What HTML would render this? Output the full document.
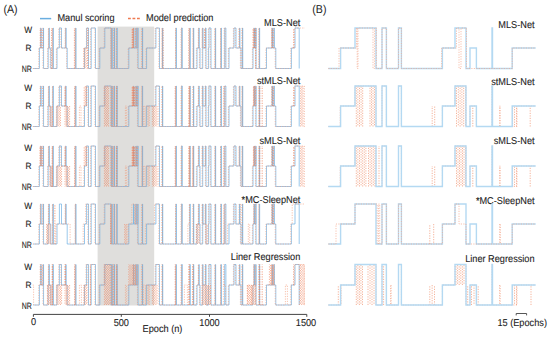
<!DOCTYPE html>
<html><head><meta charset="utf-8"><style>
html,body{margin:0;padding:0;background:#fff;width:550px;height:337px;overflow:hidden}
svg{display:block;text-rendering:geometricPrecision}
.t{font-family:"Liberation Sans",sans-serif;font-size:9.2px;fill:#1c1c1c;stroke:#1c1c1c;stroke-width:0.1px}
.p{font-family:"Liberation Sans",sans-serif;font-size:10.6px;fill:#1c1c1c;stroke:#1c1c1c;stroke-width:0.02px}
.l{font-family:"Liberation Sans",sans-serif;font-size:8.3px;fill:#1c1c1c;stroke:#1c1c1c;stroke-width:0.1px}
.b{fill:none;stroke:#6fb0e2;stroke-width:0.7}
.o{fill:none;stroke:#f19a78;stroke-width:0.6;stroke-dasharray:1.2 1.3}
.os{fill:none;stroke:#ee8058;stroke-width:0.7;stroke-dasharray:1.2 1.3}
.oz{fill:none;stroke:#f08e6a;stroke-width:0.7;stroke-dasharray:1.2 1.3}
.oz2{stroke-dashoffset:1.25}
.ozB{fill:none;stroke:#f29a78;stroke-width:0.75;stroke-dasharray:1.2 1.3}
.bB{fill:none;stroke:#b4d9f2;stroke-width:1.4}
.oB{fill:none;stroke:#f4a88c;stroke-width:0.7;stroke-dasharray:1.2 1.3}
</style></head><body>
<svg width="550" height="337" viewBox="0 0 550 337">
<rect x="97.6" y="26.6" width="56.6" height="278.9" fill="#dfdedc"/>
<line x1="40" y1="18.6" x2="51.2" y2="18.6" stroke="#6aaee0" stroke-width="1.5"/>
<line x1="128" y1="18.6" x2="140" y2="18.6" stroke="#ef7a50" stroke-width="1.5" stroke-dasharray="2.8 1.7"/>
<text transform="translate(57.40 21.30) scale(1 1.080)" class="t">Manul scoring</text>
<text transform="translate(146.00 21.30) scale(1 1.080)" class="t">Model prediction</text>
<text transform="translate(3.50 12.60) scale(1 1.080)" class="p">(A)</text>
<text transform="translate(312.30 12.60) scale(1 1.080)" class="p">(B)</text>
<text transform="translate(32.10 33.05) scale(1 1.080)" class="l" text-anchor="end">W</text>
<text transform="translate(31.60 51.35) scale(1 1.080)" class="l" text-anchor="end">R</text>
<text transform="translate(31.90 72.15) scale(1 1.080)" class="l" text-anchor="end" textLength="10.1" lengthAdjust="spacingAndGlyphs">NR</text>
<text transform="translate(300.30 25.80) scale(1 1.080)" class="t" text-anchor="end">MLS-Net</text>
<text transform="translate(534.60 28.00) scale(1 1.080)" class="t" text-anchor="end">MLS-Net</text>
<path d="M33.30 68.50 H39.40 V48.00 H40.80 V28.00 H41.05 V48.00 H43.30 V28.00 H43.55 V68.50 H48.20 V48.00 H49.00 V28.00 H49.25 V48.00 H50.80 V68.50 H53.00 V28.00 H53.25 V68.50 H57.00 V48.00 H59.40 V28.00 H61.50 V48.00 H65.80 V28.00 H66.05 V48.00 H67.20 V68.50 H75.70 V28.00 H75.95 V68.50 H84.50 V48.00 H86.60 V28.00 H88.50 V68.50 H91.20 V28.00 H95.50 V68.50 H99.80 V48.00 H104.80 V28.00 H111.20 V68.50 H111.90 V28.00 H112.15 V68.50 H114.30 V28.00 H114.55 V68.50 H116.90 V28.00 H117.15 V68.50 H128.80 V48.00 H133.60 V28.00 H133.85 V48.00 H136.00 V28.00 H136.25 V48.00 H137.80 V28.00 H138.05 V68.50 H142.40 V28.00 H142.65 V68.50 H146.60 V48.00 H155.90 V28.00 H159.50 V68.50 H162.50 V28.00 H162.75 V68.50 H176.10 V28.00 H176.35 V68.50 H181.60 V28.00 H182.30 V68.50 H189.90 V28.00 H190.15 V68.50 H193.50 V28.00 H193.75 V68.50 H197.00 V48.00 H198.90 V28.00 H199.15 V48.00 H200.00 V68.50 H202.70 V28.00 H202.95 V48.00 H205.60 V28.00 H206.00 V68.50 H208.60 V48.00 H209.00 V28.00 H211.00 V68.50 H215.40 V28.00 H215.65 V68.50 H221.10 V28.00 H221.35 V68.50 H224.70 V28.00 H225.90 V68.50 H229.00 V48.00 H234.00 V28.00 H236.00 V48.00 H239.60 V28.00 H239.85 V48.00 H241.00 V68.50 H242.50 V28.00 H242.75 V68.50 H253.00 V48.00 H254.20 V28.00 H254.45 V48.00 H255.80 V28.00 H256.05 V68.50 H259.40 V28.00 H259.65 V68.50 H266.50 V48.00 H272.20 V28.00 H272.45 V48.00 H274.00 V28.00 H274.25 V48.00 H275.80 V68.50 H291.40 V48.00 H295.00 V28.00 H299.20 V68.50" class="b"/>
<g transform="translate(-0.60 0)">
<path d="M33.30 68.50 H39.40 V48.00 H40.80 V28.00 H41.05 V48.00 H43.30 V28.00 H43.55 V68.50 H48.20 V48.00 H49.00 V28.00 H49.25 V48.00 H50.80 V68.50 H53.00 V28.00 H53.25 V68.50 H57.00 V48.00 H59.40 V28.00 H61.50 V48.00 H65.80 V28.00 H66.05 V48.00 H67.20 V68.50 H75.70 V28.00 H75.95 V68.50 H84.40 V48.00 H87.00 V28.00 H88.40 V68.50 H91.20 V28.00 H95.50 V68.50 H99.80 V48.00 H104.80 V28.00 H111.20 V68.50 H111.90 V28.00 H112.15 V68.50 H114.30 V28.00 H114.55 V68.50 H116.90 V28.00 H117.15 V68.50 H128.80 V48.00 H133.60 V28.00 H133.85 V48.00 H136.00 V28.00 H136.25 V48.00 H137.80 V28.00 H138.05 V68.50 H142.40 V28.00 H142.65 V68.50 H146.60 V48.00 H155.90 V28.00 H159.50 V68.50 H162.50 V28.00 H162.75 V68.50 H176.10 V28.00 H176.35 V68.50 H181.60 V28.00 H182.30 V68.50 H189.90 V28.00 H190.15 V68.50 H193.50 V28.00 H193.75 V68.50 H197.00 V48.00 H198.90 V28.00 H199.15 V48.00 H200.00 V68.50 H202.70 V28.00 H202.95 V48.00 H205.60 V28.00 H206.00 V68.50 H208.60 V48.00 H209.00 V28.00 H211.00 V68.50 H215.40 V28.00 H215.65 V68.50 H221.10 V28.00 H221.35 V68.50 H224.70 V28.00 H225.90 V68.50 H229.00 V48.00 H234.00 V28.00 H236.00 V48.00 H239.60 V28.00 H239.85 V48.00 H241.00 V68.50 H242.50 V28.00 H242.75 V68.50 H253.00 V48.00 H254.20 V28.00 H254.45 V48.00 H255.80 V28.00 H256.05 V68.50 H259.40 V28.00 H259.65 V68.50 H266.50 V48.00 H272.20 V28.00 H272.45 V48.00 H274.00 V28.00 H274.25 V48.00 H275.80 V68.50 H291.40 V48.00 H295.00 V28.00 H305.50" class="o"/>
<path d="M41.80 48.00 V28.00 M52.20 68.50 V28.00 M75.00 68.50 V28.00 M88.40 68.50 V28.00 M132.90 48.00 V28.00 M133.90 48.00 V28.00 M163.80 68.50 V28.00 M189.40 68.50 V28.00 M205.20 48.00 V28.00 M253.60 48.00 V28.00 M254.80 48.00 V28.00 M256.40 68.50 V28.00 M272.80 48.00 V28.00 M294.20 48.00 V28.00" class="os"/>
<path d="M84.60 48.00 V68.50 M86.90 48.00 V68.50 M132.90 48.00 V28.00" class="oz"/><path d="M85.75 48.00 V68.50 M133.95 48.00 V28.00" class="oz oz2"/>
</g>
<path d="M328.30 68.50 H340.60 V48.00 H355.00 V28.00 H376.00 V68.50 H382.00 V28.00 H386.40 V68.50 H398.50 V28.00 H401.40 V68.50 H442.40 V48.00 H455.00 V28.00 H466.00 V68.50 H470.00 V48.00 H476.40 V68.50 H492.00 V28.00 H492.50 V68.50 H512.20 V48.00 H535.70" class="bB"/>
<path d="M328.30 68.50 H339.00 V48.00 H356.60 V28.00 H357.20 V68.50 H358.00 V28.00 H373.00 V68.50 H374.60 V28.00 H376.40 V68.50 H382.00 V28.00 H386.40 V68.50 H398.50 V28.00 H401.40 V68.50 H441.60 V48.00 H456.50 V28.00 H459.00 V68.50 H461.00 V28.00 H466.50 V68.50 H512.20 V48.00 H535.70" class="oB"/>
<path d="" class="ozB"/><path d="" class="ozB oz2"/>
<text transform="translate(32.10 91.05) scale(1 1.080)" class="l" text-anchor="end">W</text>
<text transform="translate(31.60 109.35) scale(1 1.080)" class="l" text-anchor="end">R</text>
<text transform="translate(31.90 130.15) scale(1 1.080)" class="l" text-anchor="end" textLength="10.1" lengthAdjust="spacingAndGlyphs">NR</text>
<text transform="translate(300.30 84.20) scale(1 1.080)" class="t" text-anchor="end">stMLS-Net</text>
<text transform="translate(534.60 84.60) scale(1 1.080)" class="t" text-anchor="end">stMLS-Net</text>
<path d="M33.30 126.50 H39.40 V106.00 H40.80 V86.00 H41.05 V106.00 H43.30 V86.00 H43.55 V126.50 H48.20 V106.00 H49.00 V86.00 H49.25 V106.00 H50.80 V126.50 H53.00 V86.00 H53.25 V126.50 H57.00 V106.00 H59.40 V86.00 H61.50 V106.00 H65.80 V86.00 H66.05 V106.00 H67.20 V126.50 H75.70 V86.00 H75.95 V126.50 H84.50 V106.00 H86.60 V86.00 H88.50 V126.50 H91.20 V86.00 H95.50 V126.50 H99.80 V106.00 H104.80 V86.00 H111.20 V126.50 H111.90 V86.00 H112.15 V126.50 H114.30 V86.00 H114.55 V126.50 H116.90 V86.00 H117.15 V126.50 H128.80 V106.00 H133.60 V86.00 H133.85 V106.00 H136.00 V86.00 H136.25 V106.00 H137.80 V86.00 H138.05 V126.50 H142.40 V86.00 H142.65 V126.50 H146.60 V106.00 H155.90 V86.00 H159.50 V126.50 H162.50 V86.00 H162.75 V126.50 H176.10 V86.00 H176.35 V126.50 H181.60 V86.00 H182.30 V126.50 H189.90 V86.00 H190.15 V126.50 H193.50 V86.00 H193.75 V126.50 H197.00 V106.00 H198.90 V86.00 H199.15 V106.00 H200.00 V126.50 H202.70 V86.00 H202.95 V106.00 H205.60 V86.00 H206.00 V126.50 H208.60 V106.00 H209.00 V86.00 H211.00 V126.50 H215.40 V86.00 H215.65 V126.50 H221.10 V86.00 H221.35 V126.50 H224.70 V86.00 H225.90 V126.50 H229.00 V106.00 H234.00 V86.00 H236.00 V106.00 H239.60 V86.00 H239.85 V106.00 H241.00 V126.50 H242.50 V86.00 H242.75 V126.50 H253.00 V106.00 H254.20 V86.00 H254.45 V106.00 H255.80 V86.00 H256.05 V126.50 H259.40 V86.00 H259.65 V126.50 H266.50 V106.00 H272.20 V86.00 H272.45 V106.00 H274.00 V86.00 H274.25 V106.00 H275.80 V126.50 H291.40 V106.00 H295.00 V86.00 H299.20 V126.50" class="b"/>
<g transform="translate(-0.60 0)">
<path d="M33.30 126.50 H39.40 V106.00 H40.80 V86.00 H41.05 V106.00 H43.30 V86.00 H43.55 V126.50 H48.20 V106.00 H49.00 V86.00 H49.25 V106.00 H50.80 V126.50 H53.00 V86.00 H53.25 V126.50 H57.00 V106.00 H59.40 V86.00 H61.50 V106.00 H65.80 V86.00 H66.05 V106.00 H67.20 V126.50 H75.70 V86.00 H75.95 V126.50 H80.00 V106.00 H81.60 V126.50 H84.50 V106.00 H86.60 V86.00 H88.50 V126.50 H91.20 V86.00 H95.50 V126.50 H99.80 V106.00 H104.80 V86.00 H111.20 V126.50 H111.90 V86.00 H112.15 V126.50 H114.30 V86.00 H114.55 V126.50 H116.90 V86.00 H117.15 V126.50 H126.00 V106.00 H127.00 V126.50 H128.80 V106.00 H133.60 V86.00 H133.85 V106.00 H136.00 V86.00 H136.25 V106.00 H137.80 V86.00 H138.05 V126.50 H142.40 V86.00 H142.65 V126.50 H144.00 V106.00 H145.50 V126.50 H146.60 V106.00 H155.90 V86.00 H159.50 V126.50 H162.50 V86.00 H162.75 V126.50 H176.10 V86.00 H176.35 V126.50 H181.60 V86.00 H182.30 V126.50 H189.90 V86.00 H190.15 V126.50 H193.50 V86.00 H193.75 V126.50 H197.00 V106.00 H198.90 V86.00 H199.15 V106.00 H200.00 V126.50 H202.70 V86.00 H202.95 V106.00 H205.60 V86.00 H206.00 V126.50 H208.60 V106.00 H209.00 V86.00 H211.00 V126.50 H215.40 V86.00 H215.65 V126.50 H221.10 V86.00 H221.35 V126.50 H224.70 V86.00 H225.90 V126.50 H229.00 V106.00 H234.00 V86.00 H236.00 V106.00 H239.60 V86.00 H239.85 V106.00 H241.00 V126.50 H242.50 V86.00 H242.75 V126.50 H253.00 V106.00 H254.20 V86.00 H254.45 V106.00 H255.80 V86.00 H256.05 V126.50 H259.40 V86.00 H259.65 V126.50 H266.50 V106.00 H272.20 V86.00 H272.45 V106.00 H274.00 V86.00 H274.25 V106.00 H275.80 V126.50 H291.40 V106.00 H295.00 V86.00 H305.00 V126.50 H305.50" class="o"/>
<path d="M65.60 106.00 V86.00 M75.20 126.50 V86.00 M113.60 126.50 V86.00 M117.40 126.50 V86.00 M133.00 106.00 V86.00 M134.00 106.00 V86.00 M135.00 106.00 V86.00 M137.40 106.00 V86.00 M175.80 126.50 V86.00 M189.40 126.50 V86.00 M190.40 126.50 V86.00 M224.40 126.50 V86.00 M260.40 126.50 V86.00 M262.80 126.50 V86.00 M273.40 106.00 V86.00 M294.20 106.00 V86.00" class="os"/>
<path d="M50.50 106.00 V126.50 M52.80 106.00 V126.50 M57.60 106.00 V126.50 M59.90 106.00 V126.50 M65.60 106.00 V126.50 M67.90 106.00 V126.50 M70.20 106.00 V126.50 M84.80 106.00 V86.00 M87.10 106.00 V86.00 M105.00 126.50 V86.00 M107.10 126.50 V86.00 M109.20 126.50 V86.00 M132.80 106.00 V86.00 M134.90 106.00 V86.00 M148.60 106.00 V126.50 M153.00 106.00 V126.50 M155.30 106.00 V126.50 M157.60 106.00 V126.50 M254.00 106.00 V86.00 M256.30 106.00 V86.00 M301.30 126.50 V86.00 M303.60 126.50 V86.00" class="oz"/><path d="M51.65 106.00 V126.50 M58.75 106.00 V126.50 M61.05 106.00 V126.50 M66.75 106.00 V126.50 M69.05 106.00 V126.50 M85.95 106.00 V86.00 M106.05 126.50 V86.00 M108.15 126.50 V86.00 M133.85 106.00 V86.00 M149.75 106.00 V126.50 M154.15 106.00 V126.50 M156.45 106.00 V126.50 M255.15 106.00 V86.00 M302.45 126.50 V86.00" class="oz oz2"/>
</g>
<path d="M328.30 126.50 H340.20 V106.00 H355.00 V86.00 H376.00 V126.50 H382.00 V86.00 H386.40 V126.50 H398.50 V86.00 H401.40 V126.50 H442.40 V106.00 H455.00 V86.00 H466.00 V126.50 H470.00 V106.00 H476.40 V126.50 H492.00 V86.00 H492.50 V126.50 H499.50 V106.00 H500.30 V126.50 H517.00 V106.00 H535.70" class="oB"/>
<path d="M356.30 126.50 V86.00 M359.50 126.50 V86.00 M362.70 126.50 V86.00 M370.00 126.50 V86.00 M373.00 126.50 V86.00 M432.20 126.50 V106.00 M456.50 126.50 V86.00 M460.10 126.50 V86.00 M463.70 126.50 V86.00 M472.80 126.50 V106.00 M512.60 126.50 V106.00 M516.50 126.50 V106.00 M530.20 126.50 V106.00" class="ozB"/><path d="M357.90 126.50 V86.00 M361.10 126.50 V86.00 M371.50 126.50 V86.00 M374.50 126.50 V86.00 M434.70 126.50 V106.00 M458.30 126.50 V86.00 M461.90 126.50 V86.00 M465.50 126.50 V86.00 M514.55 126.50 V106.00" class="ozB oz2"/>
<path d="M328.30 126.50 H340.60 V106.00 H355.00 V86.00 H376.00 V126.50 H382.00 V86.00 H386.40 V126.50 H398.50 V86.00 H401.40 V126.50 H442.40 V106.00 H455.00 V86.00 H466.00 V126.50 H470.00 V106.00 H476.40 V126.50 H492.00 V86.00 H492.50 V126.50 H512.20 V106.00 H535.70" class="bB"/>
<text transform="translate(32.10 151.05) scale(1 1.080)" class="l" text-anchor="end">W</text>
<text transform="translate(31.60 169.35) scale(1 1.080)" class="l" text-anchor="end">R</text>
<text transform="translate(31.90 190.15) scale(1 1.080)" class="l" text-anchor="end" textLength="10.1" lengthAdjust="spacingAndGlyphs">NR</text>
<text transform="translate(300.30 143.60) scale(1 1.080)" class="t" text-anchor="end">sMLS-Net</text>
<text transform="translate(534.60 144.00) scale(1 1.080)" class="t" text-anchor="end">sMLS-Net</text>
<path d="M33.30 186.50 H39.40 V166.00 H40.80 V146.00 H41.05 V166.00 H43.30 V146.00 H43.55 V186.50 H48.20 V166.00 H49.00 V146.00 H49.25 V166.00 H50.80 V186.50 H53.00 V146.00 H53.25 V186.50 H57.00 V166.00 H59.40 V146.00 H61.50 V166.00 H65.80 V146.00 H66.05 V166.00 H67.20 V186.50 H75.70 V146.00 H75.95 V186.50 H84.50 V166.00 H86.60 V146.00 H88.50 V186.50 H91.20 V146.00 H95.50 V186.50 H99.80 V166.00 H104.80 V146.00 H111.20 V186.50 H111.90 V146.00 H112.15 V186.50 H114.30 V146.00 H114.55 V186.50 H116.90 V146.00 H117.15 V186.50 H128.80 V166.00 H133.60 V146.00 H133.85 V166.00 H136.00 V146.00 H136.25 V166.00 H137.80 V146.00 H138.05 V186.50 H142.40 V146.00 H142.65 V186.50 H146.60 V166.00 H155.90 V146.00 H159.50 V186.50 H162.50 V146.00 H162.75 V186.50 H176.10 V146.00 H176.35 V186.50 H181.60 V146.00 H182.30 V186.50 H189.90 V146.00 H190.15 V186.50 H193.50 V146.00 H193.75 V186.50 H197.00 V166.00 H198.90 V146.00 H199.15 V166.00 H200.00 V186.50 H202.70 V146.00 H202.95 V166.00 H205.60 V146.00 H206.00 V186.50 H208.60 V166.00 H209.00 V146.00 H211.00 V186.50 H215.40 V146.00 H215.65 V186.50 H221.10 V146.00 H221.35 V186.50 H224.70 V146.00 H225.90 V186.50 H229.00 V166.00 H234.00 V146.00 H236.00 V166.00 H239.60 V146.00 H239.85 V166.00 H241.00 V186.50 H242.50 V146.00 H242.75 V186.50 H253.00 V166.00 H254.20 V146.00 H254.45 V166.00 H255.80 V146.00 H256.05 V186.50 H259.40 V146.00 H259.65 V186.50 H266.50 V166.00 H272.20 V146.00 H272.45 V166.00 H274.00 V146.00 H274.25 V166.00 H275.80 V186.50 H291.40 V166.00 H295.00 V146.00 H299.20 V186.50" class="b"/>
<g transform="translate(-0.60 0)">
<path d="M33.30 186.50 H39.40 V166.00 H40.80 V146.00 H41.05 V166.00 H43.30 V146.00 H43.55 V186.50 H48.20 V166.00 H49.00 V146.00 H49.25 V166.00 H50.80 V186.50 H53.00 V146.00 H53.25 V186.50 H57.00 V166.00 H59.40 V146.00 H61.50 V166.00 H65.80 V146.00 H66.05 V166.00 H67.20 V186.50 H75.70 V146.00 H75.95 V186.50 H80.00 V166.00 H81.60 V186.50 H84.50 V166.00 H86.60 V146.00 H88.50 V186.50 H91.20 V146.00 H95.50 V186.50 H99.80 V166.00 H104.80 V146.00 H111.20 V186.50 H111.90 V146.00 H112.15 V186.50 H114.30 V146.00 H114.55 V186.50 H116.90 V146.00 H117.15 V186.50 H126.00 V166.00 H127.00 V186.50 H128.80 V166.00 H133.60 V146.00 H133.85 V166.00 H136.00 V146.00 H136.25 V166.00 H137.80 V146.00 H138.05 V186.50 H142.40 V146.00 H142.65 V186.50 H144.00 V166.00 H145.50 V186.50 H146.60 V166.00 H155.90 V146.00 H159.50 V186.50 H162.50 V146.00 H162.75 V186.50 H176.10 V146.00 H176.35 V186.50 H181.60 V146.00 H182.30 V186.50 H189.90 V146.00 H190.15 V186.50 H193.50 V146.00 H193.75 V186.50 H197.00 V166.00 H198.90 V146.00 H199.15 V166.00 H200.00 V186.50 H202.70 V146.00 H202.95 V166.00 H205.60 V146.00 H206.00 V186.50 H208.60 V166.00 H209.00 V146.00 H211.00 V186.50 H215.40 V146.00 H215.65 V186.50 H221.10 V146.00 H221.35 V186.50 H224.70 V146.00 H225.90 V186.50 H229.00 V166.00 H234.00 V146.00 H236.00 V166.00 H239.60 V146.00 H239.85 V166.00 H241.00 V186.50 H242.50 V146.00 H242.75 V186.50 H253.00 V166.00 H254.20 V146.00 H254.45 V166.00 H255.80 V146.00 H256.05 V186.50 H259.40 V146.00 H259.65 V186.50 H266.50 V166.00 H272.20 V146.00 H272.45 V166.00 H274.00 V146.00 H274.25 V166.00 H275.80 V186.50 H291.40 V166.00 H295.00 V146.00 H305.00 V186.50 H305.50" class="o"/>
<path d="M42.40 166.00 V146.00 M52.80 186.50 V146.00 M65.60 166.00 V146.00 M75.20 186.50 V146.00 M113.60 186.50 V146.00 M117.40 186.50 V146.00 M133.00 166.00 V146.00 M134.00 166.00 V146.00 M135.00 166.00 V146.00 M137.40 166.00 V146.00 M175.80 186.50 V146.00 M189.40 186.50 V146.00 M190.40 186.50 V146.00 M193.40 186.50 V146.00 M224.40 186.50 V146.00 M260.40 186.50 V146.00 M262.80 186.50 V146.00 M273.40 166.00 V146.00 M294.20 166.00 V146.00" class="os"/>
<path d="M40.70 166.00 V146.00 M50.50 166.00 V186.50 M52.80 166.00 V186.50 M57.60 166.00 V186.50 M59.90 166.00 V186.50 M62.20 166.00 V186.50 M65.60 166.00 V186.50 M67.90 166.00 V186.50 M70.20 166.00 V186.50 M84.80 166.00 V146.00 M87.10 166.00 V146.00 M105.00 186.50 V146.00 M107.10 186.50 V146.00 M109.20 186.50 V146.00 M132.80 166.00 V146.00 M134.90 166.00 V146.00 M148.60 166.00 V186.50 M153.00 166.00 V186.50 M155.30 166.00 V186.50 M157.60 166.00 V186.50 M254.00 166.00 V146.00 M256.30 166.00 V146.00 M301.30 186.50 V146.00 M303.60 186.50 V146.00" class="oz"/><path d="M41.75 166.00 V146.00 M51.65 166.00 V186.50 M58.75 166.00 V186.50 M61.05 166.00 V186.50 M66.75 166.00 V186.50 M69.05 166.00 V186.50 M85.95 166.00 V146.00 M106.05 186.50 V146.00 M108.15 186.50 V146.00 M133.85 166.00 V146.00 M149.75 166.00 V186.50 M154.15 166.00 V186.50 M156.45 166.00 V186.50 M255.15 166.00 V146.00 M302.45 186.50 V146.00" class="oz oz2"/>
</g>
<path d="M328.30 186.50 H340.20 V166.00 H355.00 V146.00 H376.00 V186.50 H382.00 V146.00 H386.40 V186.50 H398.50 V146.00 H401.40 V186.50 H442.40 V166.00 H455.00 V146.00 H466.00 V186.50 H470.00 V166.00 H476.40 V186.50 H492.00 V146.00 H492.50 V186.50 H499.50 V166.00 H500.30 V186.50 H517.00 V166.00 H535.70" class="oB"/>
<path d="M356.30 186.50 V146.00 M359.50 186.50 V146.00 M362.70 186.50 V146.00 M365.90 186.50 V146.00 M368.50 186.50 V146.00 M371.70 186.50 V146.00 M374.90 186.50 V146.00 M379.00 186.50 V146.00 M432.20 186.50 V166.00 M456.50 186.50 V146.00 M459.50 186.50 V146.00 M462.50 186.50 V146.00 M465.50 186.50 V146.00 M472.80 186.50 V166.00 M512.60 186.50 V166.00 M516.50 186.50 V166.00 M530.20 186.50 V166.00" class="ozB"/><path d="M357.90 186.50 V146.00 M361.10 186.50 V146.00 M364.30 186.50 V146.00 M370.10 186.50 V146.00 M373.30 186.50 V146.00 M434.70 186.50 V166.00 M458.00 186.50 V146.00 M461.00 186.50 V146.00 M464.00 186.50 V146.00 M514.55 186.50 V166.00" class="ozB oz2"/>
<path d="M328.30 186.50 H340.60 V166.00 H355.00 V146.00 H376.00 V186.50 H382.00 V146.00 H386.40 V186.50 H398.50 V146.00 H401.40 V186.50 H442.40 V166.00 H455.00 V146.00 H466.00 V186.50 H470.00 V166.00 H476.40 V186.50 H492.00 V146.00 H492.50 V186.50 H512.20 V166.00 H535.70" class="bB"/>
<text transform="translate(32.10 209.05) scale(1 1.080)" class="l" text-anchor="end">W</text>
<text transform="translate(31.60 227.35) scale(1 1.080)" class="l" text-anchor="end">R</text>
<text transform="translate(31.90 247.65) scale(1 1.080)" class="l" text-anchor="end" textLength="10.1" lengthAdjust="spacingAndGlyphs">NR</text>
<text transform="translate(300.30 202.50) scale(1 1.080)" class="t" text-anchor="end">*MC-SleepNet</text>
<text transform="translate(534.60 204.00) scale(1 1.080)" class="t" text-anchor="end">*MC-SleepNet</text>
<path d="M33.30 244.00 H39.40 V224.00 H40.80 V204.00 H41.05 V224.00 H43.30 V204.00 H43.55 V244.00 H48.20 V224.00 H49.00 V204.00 H49.25 V224.00 H50.80 V244.00 H53.00 V204.00 H53.25 V244.00 H57.00 V224.00 H59.40 V204.00 H61.50 V224.00 H65.80 V204.00 H66.05 V224.00 H67.20 V244.00 H75.70 V204.00 H75.95 V244.00 H84.50 V224.00 H86.60 V204.00 H88.50 V244.00 H91.20 V204.00 H95.50 V244.00 H99.80 V224.00 H104.80 V204.00 H111.20 V244.00 H111.90 V204.00 H112.15 V244.00 H114.30 V204.00 H114.55 V244.00 H116.90 V204.00 H117.15 V244.00 H128.80 V224.00 H133.60 V204.00 H133.85 V224.00 H136.00 V204.00 H136.25 V224.00 H137.80 V204.00 H138.05 V244.00 H142.40 V204.00 H142.65 V244.00 H146.60 V224.00 H155.90 V204.00 H159.50 V244.00 H162.50 V204.00 H162.75 V244.00 H176.10 V204.00 H176.35 V244.00 H181.60 V204.00 H182.30 V244.00 H189.90 V204.00 H190.15 V244.00 H193.50 V204.00 H193.75 V244.00 H197.00 V224.00 H198.90 V204.00 H199.15 V224.00 H200.00 V244.00 H202.70 V204.00 H202.95 V224.00 H205.60 V204.00 H206.00 V244.00 H208.60 V224.00 H209.00 V204.00 H211.00 V244.00 H215.40 V204.00 H215.65 V244.00 H221.10 V204.00 H221.35 V244.00 H224.70 V204.00 H225.90 V244.00 H229.00 V224.00 H234.00 V204.00 H236.00 V224.00 H239.60 V204.00 H239.85 V224.00 H241.00 V244.00 H242.50 V204.00 H242.75 V244.00 H253.00 V224.00 H254.20 V204.00 H254.45 V224.00 H255.80 V204.00 H256.05 V244.00 H259.40 V204.00 H259.65 V244.00 H266.50 V224.00 H272.20 V204.00 H272.45 V224.00 H274.00 V204.00 H274.25 V224.00 H275.80 V244.00 H291.40 V224.00 H295.00 V204.00 H299.20 V244.00" class="b"/>
<g transform="translate(-0.60 0)">
<path d="M33.30 244.00 H39.40 V224.00 H40.80 V204.00 H41.05 V224.00 H43.30 V204.00 H43.55 V244.00 H48.20 V224.00 H49.00 V204.00 H49.25 V224.00 H50.80 V244.00 H53.00 V204.00 H53.25 V244.00 H56.50 V224.00 H65.80 V204.00 H66.05 V224.00 H70.70 V244.00 H75.70 V204.00 H75.95 V244.00 H83.80 V224.00 H86.30 V204.00 H88.50 V244.00 H91.20 V204.00 H95.50 V244.00 H99.80 V224.00 H104.80 V204.00 H111.20 V244.00 H111.90 V204.00 H112.15 V244.00 H114.30 V204.00 H114.55 V244.00 H116.90 V204.00 H117.15 V244.00 H128.80 V224.00 H132.40 V204.00 H135.20 V224.00 H136.00 V204.00 H136.25 V224.00 H137.80 V204.00 H138.05 V244.00 H142.40 V204.00 H142.65 V244.00 H146.00 V224.00 H155.20 V204.00 H159.50 V244.00 H162.50 V204.00 H162.75 V244.00 H176.10 V204.00 H176.35 V244.00 H181.60 V204.00 H182.30 V244.00 H188.50 V224.00 H189.90 V204.00 H190.15 V244.00 H193.50 V204.00 H193.75 V244.00 H197.00 V224.00 H198.90 V204.00 H199.15 V224.00 H200.00 V244.00 H202.70 V204.00 H202.95 V224.00 H205.60 V204.00 H206.00 V244.00 H208.60 V224.00 H209.00 V204.00 H211.00 V244.00 H215.40 V204.00 H215.65 V244.00 H221.10 V204.00 H221.35 V244.00 H224.70 V204.00 H225.90 V244.00 H228.20 V224.00 H234.00 V204.00 H236.00 V224.00 H239.60 V204.00 H241.00 V244.00 H242.50 V204.00 H242.75 V244.00 H248.90 V224.00 H250.30 V244.00 H253.00 V224.00 H254.20 V204.00 H254.45 V224.00 H255.80 V204.00 H256.05 V244.00 H259.40 V204.00 H259.65 V244.00 H266.50 V224.00 H272.20 V204.00 H272.45 V224.00 H274.00 V204.00 H274.25 V224.00 H275.80 V244.00 H291.40 V224.00 H292.80 V204.00 H305.50" class="o"/>
<path d="M55.50 244.00 V204.00 M111.20 244.00 V204.00 M224.50 244.00 V204.00 M273.40 224.00 V204.00" class="os"/>
<path d="M47.20 224.00 V244.00 M49.50 224.00 V244.00 M125.30 224.00 V244.00 M127.40 224.00 V244.00 M197.00 224.00 V244.00 M199.30 224.00 V244.00 M206.50 224.00 V244.00" class="oz"/><path d="M48.35 224.00 V244.00 M50.65 224.00 V244.00 M126.35 224.00 V244.00 M198.15 224.00 V244.00 M207.65 224.00 V244.00" class="oz oz2"/>
</g>
<path d="M328.30 244.00 H340.60 V224.00 H355.00 V204.00 H376.00 V244.00 H382.00 V204.00 H386.40 V244.00 H398.50 V204.00 H401.40 V244.00 H442.40 V224.00 H455.00 V204.00 H466.00 V244.00 H470.00 V224.00 H476.40 V244.00 H492.00 V204.00 H492.50 V244.00 H512.20 V224.00 H535.70" class="bB"/>
<path d="M328.30 244.00 H336.00 V224.00 H355.00 V204.00 H377.20 V244.00 H378.50 V204.00 H379.70 V244.00 H382.00 V204.00 H386.40 V244.00 H398.50 V204.00 H401.40 V244.00 H442.40 V224.00 H455.00 V204.00 H459.00 V224.00 H466.00 V244.00 H499.50 V224.00 H500.50 V244.00 H512.20 V224.00 H535.70" class="oB"/>
<path d="M429.80 244.00 V224.00" class="ozB"/><path d="M433.70 244.00 V224.00" class="ozB oz2"/>
<text transform="translate(32.10 269.55) scale(1 1.080)" class="l" text-anchor="end">W</text>
<text transform="translate(31.60 288.35) scale(1 1.080)" class="l" text-anchor="end">R</text>
<text transform="translate(31.90 308.65) scale(1 1.080)" class="l" text-anchor="end" textLength="10.1" lengthAdjust="spacingAndGlyphs">NR</text>
<text transform="translate(300.30 259.90) scale(1 1.080)" class="t" text-anchor="end">Liner Regression</text>
<text transform="translate(534.60 261.60) scale(1 1.080)" class="t" text-anchor="end">Liner Regression</text>
<path d="M33.30 305.00 H39.40 V285.00 H40.80 V264.50 H41.05 V285.00 H43.30 V264.50 H43.55 V305.00 H48.20 V285.00 H49.00 V264.50 H49.25 V285.00 H50.80 V305.00 H53.00 V264.50 H53.25 V305.00 H57.00 V285.00 H59.40 V264.50 H61.50 V285.00 H65.80 V264.50 H66.05 V285.00 H67.20 V305.00 H75.70 V264.50 H75.95 V305.00 H84.50 V285.00 H86.60 V264.50 H88.50 V305.00 H91.20 V264.50 H95.50 V305.00 H99.80 V285.00 H104.80 V264.50 H111.20 V305.00 H111.90 V264.50 H112.15 V305.00 H114.30 V264.50 H114.55 V305.00 H116.90 V264.50 H117.15 V305.00 H128.80 V285.00 H133.60 V264.50 H133.85 V285.00 H136.00 V264.50 H136.25 V285.00 H137.80 V264.50 H138.05 V305.00 H142.40 V264.50 H142.65 V305.00 H146.60 V285.00 H155.90 V264.50 H159.50 V305.00 H162.50 V264.50 H162.75 V305.00 H176.10 V264.50 H176.35 V305.00 H181.60 V264.50 H182.30 V305.00 H189.90 V264.50 H190.15 V305.00 H193.50 V264.50 H193.75 V305.00 H197.00 V285.00 H198.90 V264.50 H199.15 V285.00 H200.00 V305.00 H202.70 V264.50 H202.95 V285.00 H205.60 V264.50 H206.00 V305.00 H208.60 V285.00 H209.00 V264.50 H211.00 V305.00 H215.40 V264.50 H215.65 V305.00 H221.10 V264.50 H221.35 V305.00 H224.70 V264.50 H225.90 V305.00 H229.00 V285.00 H234.00 V264.50 H236.00 V285.00 H239.60 V264.50 H239.85 V285.00 H241.00 V305.00 H242.50 V264.50 H242.75 V305.00 H253.00 V285.00 H254.20 V264.50 H254.45 V285.00 H255.80 V264.50 H256.05 V305.00 H259.40 V264.50 H259.65 V305.00 H266.50 V285.00 H272.20 V264.50 H272.45 V285.00 H274.00 V264.50 H274.25 V285.00 H275.80 V305.00 H291.40 V285.00 H295.00 V264.50 H299.20 V305.00" class="b"/>
<g transform="translate(-0.60 0)">
<path d="M33.30 285.00 H34.20 V305.00 H39.40 V285.00 H40.80 V264.50 H41.05 V285.00 H43.30 V264.50 H43.55 V305.00 H48.20 V285.00 H49.00 V264.50 H49.25 V285.00 H50.80 V305.00 H53.00 V264.50 H53.25 V305.00 H57.00 V285.00 H59.40 V264.50 H61.50 V285.00 H65.80 V264.50 H66.05 V285.00 H67.20 V305.00 H75.70 V264.50 H75.95 V305.00 H80.00 V285.00 H82.00 V305.00 H84.50 V285.00 H86.60 V264.50 H88.50 V305.00 H91.20 V264.50 H95.50 V305.00 H99.80 V285.00 H104.80 V264.50 H111.20 V305.00 H111.90 V264.50 H112.15 V305.00 H114.30 V264.50 H114.55 V305.00 H116.90 V264.50 H117.15 V305.00 H126.00 V285.00 H127.00 V305.00 H128.80 V285.00 H133.60 V264.50 H133.85 V285.00 H136.00 V264.50 H136.25 V285.00 H137.80 V264.50 H138.05 V305.00 H142.40 V264.50 H142.65 V305.00 H144.00 V285.00 H146.00 V305.00 H146.60 V285.00 H155.90 V264.50 H159.50 V305.00 H162.50 V264.50 H162.75 V305.00 H176.10 V264.50 H176.35 V305.00 H181.60 V264.50 H182.30 V305.00 H185.00 V285.00 H188.00 V305.00 H189.90 V264.50 H190.15 V305.00 H193.50 V264.50 H193.75 V305.00 H197.00 V285.00 H198.90 V264.50 H199.15 V285.00 H200.00 V305.00 H202.70 V264.50 H202.95 V285.00 H205.60 V264.50 H206.00 V305.00 H208.60 V285.00 H209.00 V264.50 H211.00 V305.00 H215.40 V264.50 H215.65 V305.00 H221.10 V264.50 H221.35 V305.00 H224.00 V285.00 H226.00 V305.00 H229.00 V285.00 H234.00 V264.50 H236.00 V285.00 H239.60 V264.50 H239.85 V285.00 H241.00 V305.00 H242.50 V264.50 H242.75 V305.00 H248.00 V285.00 H252.00 V305.00 H253.00 V285.00 H254.20 V264.50 H254.45 V285.00 H255.80 V264.50 H256.05 V305.00 H259.40 V264.50 H259.65 V305.00 H266.50 V285.00 H272.20 V264.50 H272.45 V285.00 H274.00 V264.50 H274.25 V285.00 H275.80 V305.00 H286.00 V285.00 H288.00 V305.00 H291.40 V285.00 H295.00 V264.50 H305.00 V305.00 H305.50" class="o"/>
<path d="M42.40 285.00 V264.50 M52.80 305.00 V264.50 M65.60 285.00 V264.50 M75.20 305.00 V264.50 M91.00 305.00 V264.50 M113.60 305.00 V264.50 M117.40 305.00 V264.50 M175.80 305.00 V264.50 M189.40 305.00 V264.50 M193.40 305.00 V264.50 M224.40 285.00 V264.50 M260.40 305.00 V264.50 M262.80 305.00 V264.50 M294.20 285.00 V264.50" class="os"/>
<path d="M48.00 285.00 V305.00 M50.30 285.00 V305.00 M52.60 285.00 V305.00 M57.60 285.00 V305.00 M59.90 285.00 V305.00 M62.20 285.00 V305.00 M65.60 285.00 V305.00 M67.90 285.00 V305.00 M70.20 285.00 V305.00 M84.80 285.00 V305.00 M87.10 285.00 V305.00 M105.00 305.00 V264.50 M107.10 305.00 V264.50 M109.20 305.00 V264.50 M129.40 285.00 V264.50 M131.70 285.00 V264.50 M134.00 285.00 V264.50 M136.30 285.00 V264.50 M148.60 285.00 V305.00 M153.00 285.00 V305.00 M155.30 285.00 V305.00 M157.60 285.00 V305.00 M202.80 285.00 V305.00 M204.90 285.00 V305.00 M207.00 285.00 V305.00 M209.10 285.00 V305.00 M211.20 285.00 V305.00 M248.00 285.00 V305.00 M250.10 285.00 V305.00 M252.20 285.00 V305.00 M254.30 285.00 V305.00 M256.40 285.00 V305.00 M270.00 285.00 V264.50 M272.30 285.00 V264.50 M274.60 285.00 V264.50 M300.00 305.00 V264.50 M302.30 305.00 V264.50 M304.60 305.00 V264.50" class="oz"/><path d="M49.15 285.00 V305.00 M51.45 285.00 V305.00 M58.75 285.00 V305.00 M61.05 285.00 V305.00 M66.75 285.00 V305.00 M69.05 285.00 V305.00 M85.95 285.00 V305.00 M106.05 305.00 V264.50 M108.15 305.00 V264.50 M110.25 305.00 V264.50 M130.55 285.00 V264.50 M132.85 285.00 V264.50 M135.15 285.00 V264.50 M149.75 285.00 V305.00 M154.15 285.00 V305.00 M156.45 285.00 V305.00 M203.85 285.00 V305.00 M205.95 285.00 V305.00 M208.05 285.00 V305.00 M210.15 285.00 V305.00 M249.05 285.00 V305.00 M251.15 285.00 V305.00 M253.25 285.00 V305.00 M255.35 285.00 V305.00 M271.15 285.00 V264.50 M273.45 285.00 V264.50 M301.15 305.00 V264.50 M303.45 305.00 V264.50" class="oz oz2"/>
</g>
<path d="M328.30 305.00 H340.60 V285.00 H355.00 V264.50 H376.00 V305.00 H382.00 V264.50 H386.40 V305.00 H390.50 V285.00 H391.20 V305.00 H398.50 V264.50 H401.40 V305.00 H442.40 V285.00 H455.00 V264.50 H466.00 V305.00 H470.00 V285.00 H476.40 V305.00 H492.00 V264.50 H492.50 V305.00 H499.50 V285.00 H500.30 V305.00 H517.00 V285.00 H535.70" class="oB"/>
<path d="M338.30 305.00 V285.00 M356.30 305.00 V264.50 M359.40 305.00 V264.50 M362.50 305.00 V264.50 M368.00 305.00 V264.50 M372.00 305.00 V264.50 M383.60 305.00 V264.50 M429.80 305.00 V285.00 M434.50 305.00 V285.00 M456.00 285.00 V264.50 M459.20 285.00 V264.50 M462.40 285.00 V264.50 M467.70 305.00 V285.00 M471.50 305.00 V285.00 M478.20 305.00 V285.00 M512.60 305.00 V285.00 M516.50 305.00 V285.00 M531.00 305.00 V285.00" class="ozB"/><path d="M341.00 305.00 V285.00 M357.85 305.00 V264.50 M360.95 305.00 V264.50 M370.00 305.00 V264.50 M374.00 305.00 V264.50 M432.15 305.00 V285.00 M457.60 285.00 V264.50 M460.80 285.00 V264.50 M464.00 285.00 V264.50 M474.00 305.00 V285.00 M514.55 305.00 V285.00" class="ozB oz2"/>
<path d="M328.30 305.00 H340.60 V285.00 H355.00 V264.50 H376.00 V305.00 H382.00 V264.50 H386.40 V305.00 H398.50 V264.50 H401.40 V305.00 H442.40 V285.00 H455.00 V264.50 H466.00 V305.00 H470.00 V285.00 H476.40 V305.00 H492.00 V264.50 H492.50 V305.00 H512.20 V285.00 H535.70" class="bB"/>
<path d="M33.4 316.8 V314.4 H306.8 V316.8 M121.3 314.4 V316.8 M209.5 314.4 V316.8" fill="none" stroke="#444" stroke-width="1.0"/>
<text transform="translate(33.45 325.00) scale(1 1.080)" class="t" text-anchor="middle">0</text>
<text transform="translate(121.30 326.00) scale(1 1.080)" class="t" text-anchor="middle">500</text>
<text transform="translate(209.50 326.00) scale(1 1.080)" class="t" text-anchor="middle">1000</text>
<text transform="translate(306.00 326.00) scale(1 1.080)" class="t" text-anchor="middle">1500</text>
<text transform="translate(142.60 332.30) scale(1 1.080)" class="t">Epoch (n)</text>
<path d="M516.2 315.4 V313.5 H526.6 V315.4" fill="none" stroke="#444" stroke-width="0.9"/>
<text transform="translate(497.40 326.20) scale(1 1.080)" class="t">15 (Epochs)</text>
</svg>
</body></html>
